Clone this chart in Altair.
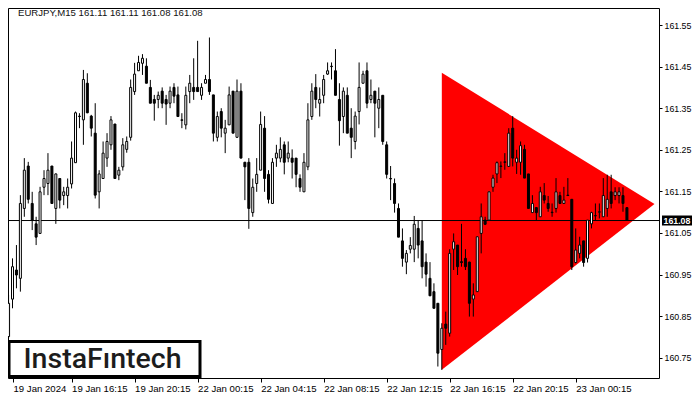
import altair as alt
import pandas as pd

# ---- candle data (EURJPY M15), index = bar number ----
opens = [
    160.801, 160.891, 160.961, 160.941, 161.109, 161.211, 161.121, 161.072, 161.049, 161.160,
    161.169, 161.211, 161.109, 161.181, 161.140, 161.140, 161.168, 161.219, 161.330, 161.322,
    161.410, 161.331, 161.290, 161.149, 161.181, 161.230, 161.262, 161.312, 161.189, 161.209,
    161.251, 161.280, 161.390, 161.440, 161.458, 161.451, 161.400, 161.371, 161.371, 161.391,
    161.371, 161.362, 161.400, 161.382, 161.322, 161.310, 161.390, 161.400, 161.400, 161.381,
    161.410, 161.419, 161.382, 161.280, 161.342, 161.290, 161.310, 161.391, 161.280, 161.391,
    161.220, 161.220, 161.099, 161.169, 161.201, 161.302, 161.191, 161.121, 161.230, 161.230,
    161.262, 161.230, 161.230, 161.230, 161.181, 161.149, 161.209, 161.330, 161.400, 161.362,
    161.381, 161.432, 161.451, 161.440, 161.371, 161.330, 161.381, 161.302, 161.270, 161.342,
    161.410, 161.440, 161.371, 161.391, 161.350, 161.381, 161.262, 161.181, 161.169, 161.109,
    161.031, 160.980, 161.011, 161.011, 161.061, 161.031, 160.980, 160.941, 160.909, 160.881,
    160.770, 160.831, 160.809, 161.011, 161.021, 160.981, 160.989, 160.980, 160.891, 160.909,
    161.049, 161.081, 161.081, 161.160, 161.192, 161.210, 161.221, 161.210, 161.302, 161.220,
    161.220, 161.251, 161.192, 161.099, 161.111, 161.089, 161.140, 161.121, 161.100, 161.109,
    161.140, 161.121, 161.141, 161.131, 160.979, 161.001, 161.031, 160.989, 161.072, 161.091,
    161.100, 161.089, 161.109, 161.149, 161.140, 161.140, 161.140, 161.111,
]
highs = [
    160.901, 160.989, 161.021, 161.141, 161.230, 161.221, 161.149, 161.089, 161.161, 161.201,
    161.242, 161.211, 161.193, 161.181, 161.161, 161.181, 161.270, 161.342, 161.338, 161.442,
    161.434, 161.334, 161.362, 161.201, 161.270, 161.290, 161.331, 161.312, 161.209, 161.278,
    161.282, 161.419, 161.459, 161.476, 161.480, 161.470, 161.418, 161.382, 161.390, 161.400,
    161.382, 161.402, 161.410, 161.402, 161.338, 161.402, 161.430, 161.470, 161.512, 161.410,
    161.430, 161.520, 161.382, 161.342, 161.350, 161.322, 161.402, 161.391, 161.419, 161.410,
    161.221, 161.230, 161.181, 161.230, 161.342, 161.331, 161.201, 161.230, 161.262, 161.280,
    161.270, 161.270, 161.251, 161.230, 161.191, 161.242, 161.362, 161.410, 161.432, 161.400,
    161.430, 161.460, 161.460, 161.492, 161.410, 161.400, 161.400, 161.350, 161.342, 161.460,
    161.440, 161.460, 161.419, 161.391, 161.400, 161.381, 161.270, 161.211, 161.181, 161.121,
    161.061, 161.009, 161.040, 161.091, 161.080, 161.080, 161.001, 160.980, 160.929, 160.881,
    160.833, 160.861, 161.011, 161.049, 161.021, 161.072, 161.011, 160.981, 160.929, 161.041,
    161.121, 161.089, 161.149, 161.190, 161.222, 161.222, 161.242, 161.302, 161.331, 161.250,
    161.270, 161.262, 161.192, 161.141, 161.111, 161.161, 161.170, 161.139, 161.121, 161.182,
    161.149, 161.161, 161.182, 161.131, 161.061, 161.041, 161.031, 161.081, 161.101, 161.121,
    161.121, 161.182, 161.190, 161.190, 161.160, 161.160, 161.160, 161.111,
]
lows = [
    160.797, 160.869, 160.917, 160.909, 161.089, 161.121, 161.057, 161.021, 161.049, 161.141,
    161.141, 161.121, 161.072, 161.109, 161.117, 161.109, 161.157, 161.219, 161.302, 161.262,
    161.338, 161.282, 161.133, 161.109, 161.181, 161.209, 161.250, 161.181, 161.177, 161.200,
    161.243, 161.272, 161.382, 161.440, 161.430, 161.410, 161.362, 161.320, 161.350, 161.350,
    161.310, 161.350, 161.362, 161.330, 161.302, 161.299, 161.362, 161.370, 161.390, 161.370,
    161.410, 161.382, 161.270, 161.270, 161.280, 161.242, 161.310, 161.290, 161.280, 161.230,
    161.129, 161.060, 161.089, 161.149, 161.201, 161.149, 161.121, 161.121, 161.209, 161.220,
    161.191, 161.220, 161.181, 161.160, 161.149, 161.149, 161.201, 161.322, 161.350, 161.330,
    161.362, 161.430, 161.419, 161.381, 161.260, 161.290, 161.290, 161.230, 161.251, 161.311,
    161.410, 161.350, 161.362, 161.280, 161.302, 161.262, 161.181, 161.129, 161.099, 161.040,
    160.969, 160.951, 161.001, 160.980, 160.989, 160.941, 160.921, 160.899, 160.869, 160.729,
    160.721, 160.781, 160.801, 160.961, 160.949, 160.969, 160.961, 160.849, 160.849, 160.909,
    161.001, 161.069, 161.081, 161.149, 161.170, 161.182, 161.202, 161.210, 161.210, 161.192,
    161.190, 161.182, 161.109, 161.099, 161.081, 161.089, 161.121, 161.101, 161.089, 161.099,
    161.121, 161.121, 161.139, 160.961, 160.977, 160.989, 160.969, 160.979, 161.061, 161.081,
    161.085, 161.089, 161.089, 161.109, 161.129, 161.121, 161.101, 161.081,
]
closes = [
    160.881, 160.969, 160.949, 161.121, 161.201, 161.131, 161.081, 161.040, 161.149, 161.181,
    161.201, 161.121, 161.192, 161.129, 161.149, 161.160, 161.230, 161.339, 161.331, 161.419,
    161.339, 161.302, 161.141, 161.192, 161.242, 161.270, 161.322, 161.181, 161.201, 161.262,
    161.270, 161.400, 161.432, 161.460, 161.470, 161.410, 161.362, 161.362, 161.381, 161.362,
    161.360, 161.391, 161.379, 161.330, 161.321, 161.381, 161.410, 161.390, 161.390, 161.400,
    161.419, 161.390, 161.290, 161.330, 161.302, 161.302, 161.382, 161.290, 161.391, 161.230,
    161.209, 161.109, 161.160, 161.191, 161.311, 161.181, 161.131, 161.220, 161.242, 161.251,
    161.220, 161.242, 161.220, 161.191, 161.160, 161.220, 161.322, 161.391, 161.371, 161.371,
    161.419, 161.440, 161.450, 161.381, 161.320, 161.391, 161.290, 161.280, 161.331, 161.400,
    161.432, 161.362, 161.381, 161.362, 161.371, 161.270, 161.191, 161.180, 161.121, 161.040,
    160.989, 161.001, 161.020, 161.071, 161.021, 160.969, 160.951, 160.899, 160.869, 160.761,
    160.821, 160.821, 161.001, 161.029, 160.969, 160.979, 160.969, 160.881, 160.901, 161.041,
    161.089, 161.071, 161.149, 161.182, 161.219, 161.211, 161.220, 161.290, 161.230, 161.230,
    161.260, 161.182, 161.109, 161.121, 161.099, 161.149, 161.129, 161.109, 161.099, 161.149,
    161.121, 161.129, 161.140, 160.969, 161.009, 161.021, 160.979, 161.081, 161.099, 161.092,
    161.101, 161.140, 161.131, 161.121, 161.149, 161.149, 161.121, 161.081,
]

# x-axis labels, one every 16 bars
x_labels = ["19 Jan 2024", "19 Jan 16:15", "19 Jan 20:15", "22 Jan 00:15", "22 Jan 04:15",
            "22 Jan 08:15", "22 Jan 12:15", "22 Jan 16:15", "22 Jan 20:15", "23 Jan 00:15"]
y_ticks = [160.75, 160.85, 160.95, 161.05, 161.15, 161.25, 161.35, 161.45, 161.55]

# bearish symmetrical triangle pattern
tri_x = [110, 164]
tri_upper = [161.435, 161.12]
tri_lower = [160.721, 161.12]

last_price = 161.08
header = "EURJPY,M15  161.11 161.11 161.08 161.08"

# ---- build ----
n = len(opens)
df = pd.DataFrame({"i": list(range(n)), "o": opens, "h": highs, "l": lows, "c": closes})
df["fill"] = ["#ffffff" if c >= o else "#000000" for o, c in zip(opens, closes)]
tri_df = pd.DataFrame({"i": tri_x, "up": tri_upper, "lo": tri_lower})
line_df = pd.DataFrame({"p": [last_price]})
one = pd.DataFrame({"k": [0]})

FONT = "Liberation Sans"
X_DOMAIN = [1.125, 163.875]
Y_DOMAIN = [160.7014, 161.5909]
xs = alt.Scale(domain=X_DOMAIN, nice=False, zero=False)
ys = alt.Scale(domain=Y_DOMAIN, nice=False, zero=False)

tick_vals = [X_DOMAIN[0]] + [16 * k for k in range(1, len(x_labels))]
lab_arr = "[" + ",".join("'" + s + "'" for s in x_labels) + "]"
x_axis = alt.Axis(values=tick_vals, labelExpr=lab_arr + "[round(datum.value/16)]",
                  labelAlign="left", labelBaseline="top", labelPadding=1, tickSize=4,
                  tickColor="black", labelColor="black", labelFont=FONT, labelFontSize=9.6,
                  labelOverlap=False, labelFlush=False, labelBound=False,
                  domain=False, grid=False, title=None)
y_axis = alt.Axis(orient="right", values=y_ticks, format=".2f", tickSize=3, tickColor="black",
                  labelColor="black", labelFont=FONT, labelFontSize=8.8, labelPadding=2,
                  labelOverlap=False, labelFlush=False, labelBound=False,
                  domain=False, grid=False, title=None)

tri = alt.Chart(tri_df).mark_area(color="#ff0000", opacity=1, clip=True).encode(
    x=alt.X("i:Q", scale=xs, axis=x_axis),
    y=alt.Y("up:Q", scale=ys, axis=y_axis),
    y2="lo:Q",
)

hline = alt.Chart(line_df).mark_rule(color="black", strokeWidth=1).encode(
    y=alt.Y("p:Q", scale=ys, axis=y_axis)
)

wicks = alt.Chart(df).mark_rule(color="black", strokeWidth=1, clip=True).encode(
    x=alt.X("i:Q", scale=xs, axis=x_axis),
    y=alt.Y("l:Q", scale=ys, axis=y_axis),
    y2="h:Q",
)

bodies = alt.Chart(df).mark_bar(size=2, stroke="black", strokeWidth=1, clip=True).encode(
    x=alt.X("i:Q", scale=xs, axis=x_axis),
    y=alt.Y("o:Q", scale=ys, axis=y_axis),
    y2="c:Q",
    fill=alt.Fill("fill:N", scale=None),
)

head = alt.Chart(one).mark_text(text=header, align="left", baseline="alphabetic",
                                font=FONT, fontSize=9.6, color="#111111").encode(
    x=alt.value(10), y=alt.value(7.5)
)

logo_box = alt.Chart(one).mark_rect(fill="white", stroke="black", strokeWidth=3).encode(
    x=alt.value(1), x2=alt.value(192), y=alt.value(333.5), y2=alt.value(368.5)
)
logo_txt = alt.Chart(one).mark_text(text="InstaF\u0131ntech", align="center", baseline="middle",
                                    font="Roboto", fontSize=28.5, fontWeight=500,
                                    color="#1c1c1c").encode(
    x=alt.value(94.5), y=alt.value(351)
)

price_box = alt.Chart(one).mark_rect(fill="black").encode(
    x=alt.value(654), x2=alt.value(684), y=alt.value(207.5), y2=alt.value(217.5)
)
price_txt = alt.Chart(one).mark_text(text="161.08", align="left", baseline="middle",
                                     font=FONT, fontSize=8.8, fontWeight="bold",
                                     color="white").encode(
    x=alt.value(655.5), y=alt.value(212.8)
)

chart = alt.layer(tri, hline, wicks, bodies, head, logo_box, logo_txt, price_box, price_txt).properties(
    width=651, height=370,
    autosize=alt.AutoSizeParams(type="none"),
    padding={"left": 0, "top": 0, "right": 33, "bottom": 14},
    background="white",
).configure_view(stroke="black", strokeWidth=1)

chart.save("out.html", embed_options={"renderer": "svg", "actions": False})
